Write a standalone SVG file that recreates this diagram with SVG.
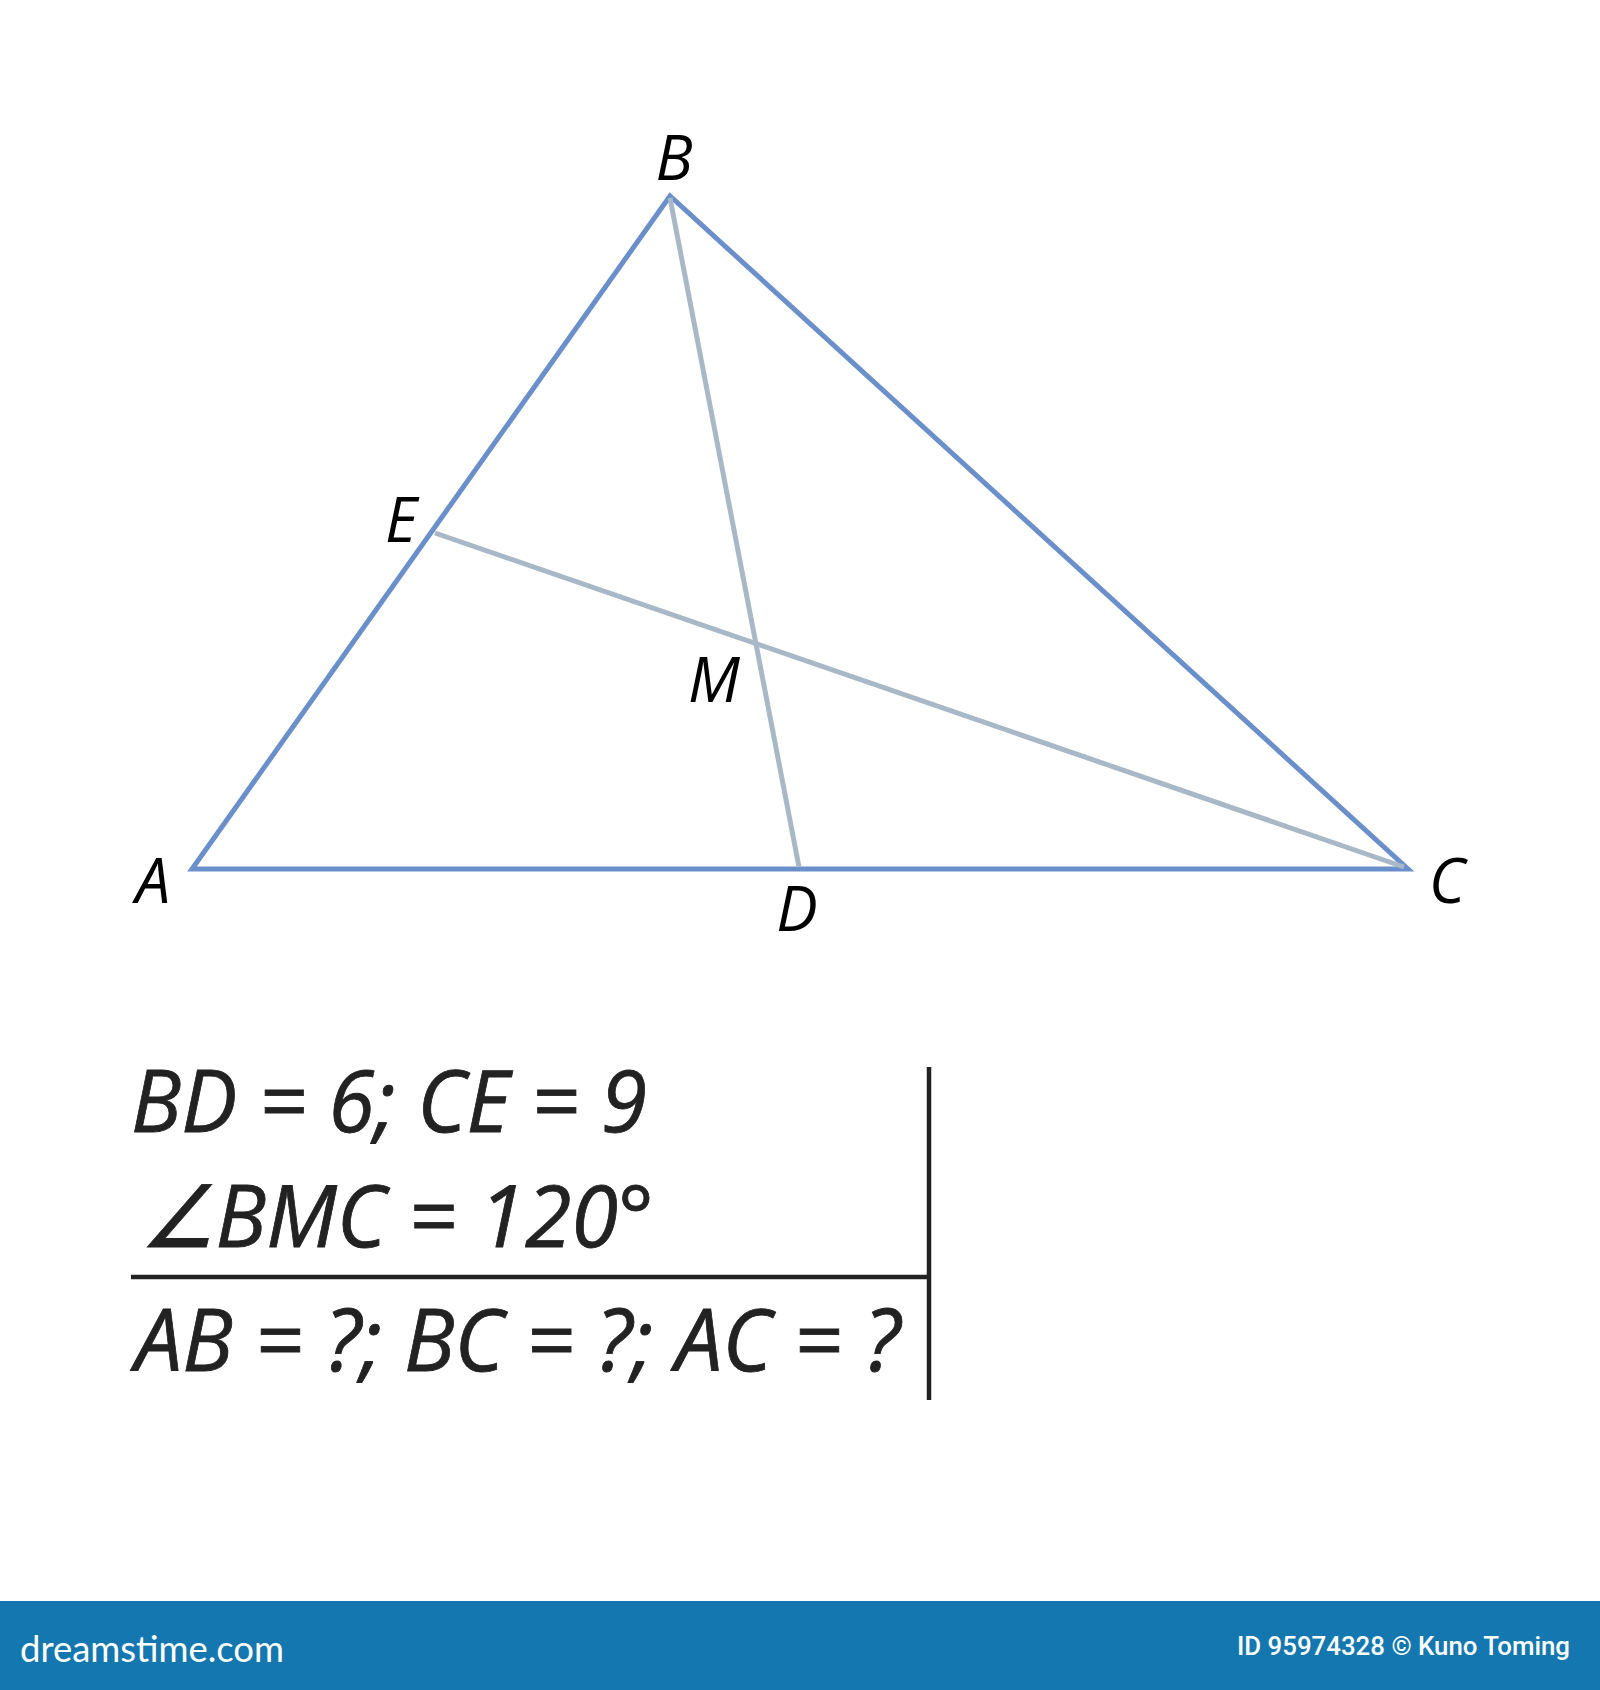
<svg xmlns="http://www.w3.org/2000/svg" width="1600" height="1690" viewBox="0 0 1600 1690">
  <style>
    .side { stroke: #6b8fca; stroke-width: 5; fill: none; stroke-linejoin: miter; }
    .cev { stroke: #a9b8c7; stroke-width: 5; fill: none; }
    .lbl { font-family: "Open Sans", "Liberation Sans", sans-serif; font-style: italic; font-size: 62px; fill: #000; text-anchor: middle; }
    .eq { font-family: "Open Sans", "Liberation Sans", sans-serif; font-style: italic; font-size: 86px; fill: #222; stroke: #222; stroke-width: 0.8; }
    .rule { stroke: #222; stroke-width: 4.5; }
  </style>
  <rect width="1600" height="1690" fill="#ffffff"/>

  <g id="connectors">
    <polygon class="side" points="670,196 192,869 1408,869"/>
    <line class="cev" x1="670" y1="198" x2="799" y2="867"/>
    <line class="cev" x1="435" y1="533" x2="1404" y2="867"/>
  </g>

  <g id="node-B"><text class="lbl" x="674" y="180">B</text></g>
  <g id="node-A"><text class="lbl" x="153" y="903">A</text></g>
  <g id="node-C"><text class="lbl" x="1447" y="903">C</text></g>
  <g id="node-E"><text class="lbl" x="401" y="542">E</text></g>
  <g id="node-M"><text class="lbl" x="714" y="702">M</text></g>
  <g id="node-D"><text class="lbl" x="797" y="931">D</text></g>

  <g id="problem">
    <text class="eq" x="131" y="1132" textLength="516" lengthAdjust="spacingAndGlyphs">BD = 6; CE = 9</text>
    <text class="eq" x="140" y="1247" textLength="514" lengthAdjust="spacingAndGlyphs">∠BMC = 120°</text>
    <line class="rule" x1="131" y1="1277" x2="929" y2="1277"/>
    <line class="rule" x1="929" y1="1067" x2="929" y2="1400"/>
    <text class="eq" x="135" y="1371" textLength="765" lengthAdjust="spacingAndGlyphs">AB = ?; BC = ?; AC = ?</text>
  </g>

  <g id="footer">
    <rect x="0" y="1601" width="1600" height="89" fill="#1477b0"/>
    <text x="20" y="1662" font-family="Lato, 'Open Sans', sans-serif" font-size="36" fill="#ffffff" textLength="264" lengthAdjust="spacingAndGlyphs">dreamstime.com</text>
    <text x="1237" y="1655" font-family="Roboto, 'Liberation Sans', sans-serif" font-weight="500" font-size="26" fill="#ffffff" textLength="333" lengthAdjust="spacingAndGlyphs">ID 95974328 © Kuno Toming</text>
  </g>
</svg>
